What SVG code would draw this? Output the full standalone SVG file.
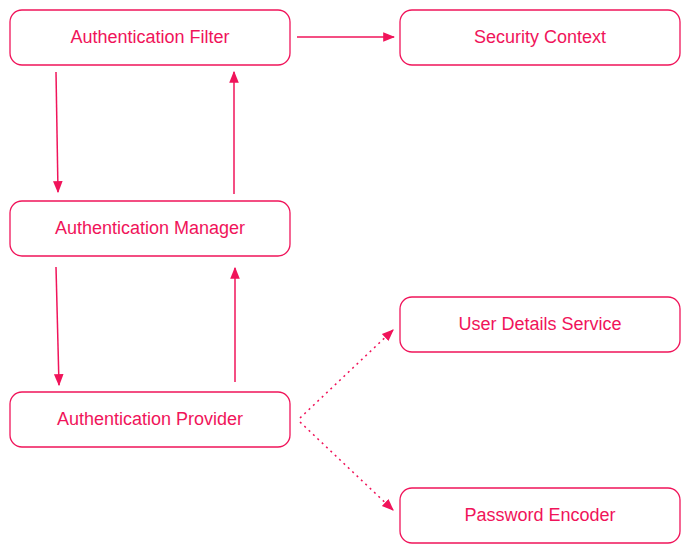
<svg xmlns="http://www.w3.org/2000/svg" width="689" height="553" viewBox="0 0 689 553">
<style>
.n rect{fill:#fff;stroke:#f0145a;stroke-width:1.3}
.n text{font-family:"Liberation Sans",sans-serif;font-size:18px;fill:#f0145a;text-anchor:middle;dominant-baseline:central}
.c line{stroke:#f0145a;stroke-width:1.5;fill:none}
.d{stroke-dasharray:2 4}
</style>
<defs><marker id="a" viewBox="0 0 10 10" refX="9" refY="5" markerWidth="8" markerHeight="8" orient="auto-start-reverse"><path d="M0,1 L10,5 L0,9 Z" fill="#f0145a"/></marker></defs>
<rect width="689" height="553" fill="#fff"/>
<g class="c">
<line x1="297" y1="37" x2="394" y2="37" marker-end="url(#a)"/>
<line x1="56" y1="72" x2="58" y2="192" marker-end="url(#a)"/>
<line x1="234" y1="194" x2="234" y2="72" marker-end="url(#a)"/>
<line x1="56" y1="267" x2="59" y2="385" marker-end="url(#a)"/>
<line x1="235" y1="382" x2="235" y2="268" marker-end="url(#a)"/>
<line class="d" x1="300" y1="418" x2="393" y2="330" marker-end="url(#a)"/>
<line class="d" x1="300" y1="422" x2="393" y2="510" marker-end="url(#a)"/>
</g>
<g id="filter" class="n"><rect x="10" y="10" width="280" height="55" rx="12"/><text x="150" y="37">Authentication Filter</text></g>
<g id="context" class="n"><rect x="400" y="10" width="280" height="55" rx="12"/><text x="540" y="37">Security Context</text></g>
<g id="manager" class="n"><rect x="10" y="201" width="280" height="55" rx="12"/><text x="150" y="228">Authentication Manager</text></g>
<g id="uds" class="n"><rect x="400" y="297" width="280" height="55" rx="12"/><text x="540" y="324">User Details Service</text></g>
<g id="provider" class="n"><rect x="10" y="392" width="280" height="55" rx="12"/><text x="150" y="419">Authentication Provider</text></g>
<g id="encoder" class="n"><rect x="400" y="488" width="280" height="55" rx="12"/><text x="540" y="515">Password Encoder</text></g>
</svg>
